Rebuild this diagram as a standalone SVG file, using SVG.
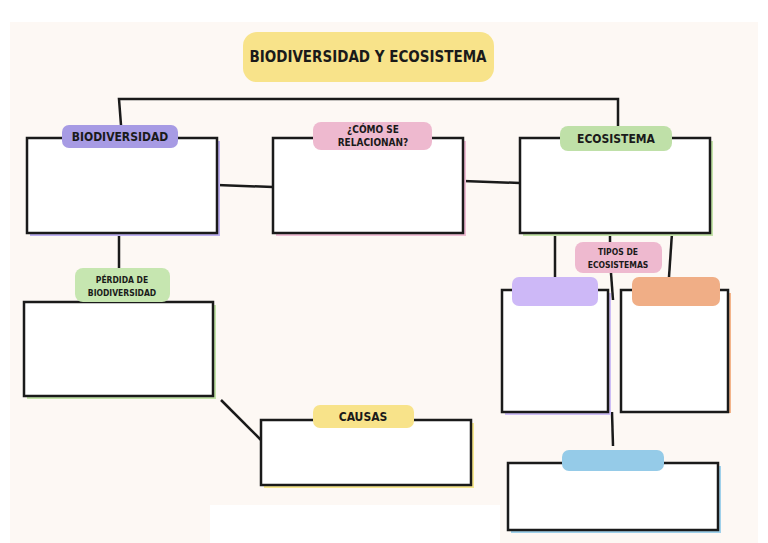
<svg xmlns="http://www.w3.org/2000/svg" width="768" height="543" viewBox="0 0 768 543">
<style>
.box{fill:#fff;stroke:#1a1a1a;stroke-width:2.5}
.ln{fill:none;stroke:#1a1a1a;stroke-width:2.5}
.t{font-family:"DejaVu Sans Condensed","DejaVu Sans",sans-serif;font-stretch:condensed;font-weight:bold;fill:#1a1a1a;text-anchor:middle}
</style>
<rect width="768" height="543" fill="#fff"/>
<rect x="10" y="22" width="748" height="521" fill="#fdf8f4"/>
<rect x="210" y="505" width="290" height="38" fill="#fff"/>
<g id="connectors">
<path class="ln" d="M121 125 L119 99 L618 99 L618 126"/>
<path class="ln" d="M217 185 L273 187"/>
<path class="ln" d="M463 181 L520 183"/>
<path class="ln" d="M119 233 L119 270"/>
<path class="ln" d="M221 400 L261 440"/>
<path class="ln" d="M555 233 L555 277"/>
<path class="ln" d="M672 233 L669 277"/>
<path class="ln" d="M610 233 L610 242"/>
<path class="ln" d="M611 273 L613 300"/>
<path class="ln" d="M612 412 L613 446"/>
</g>
<g id="title">
<rect x="243" y="32" width="251" height="50" rx="14" fill="#f8e38a"/>
<text class="t" x="368" y="62" font-size="15">BIODIVERSIDAD Y ECOSISTEMA</text>
</g>
<g id="biodiversidad">
<rect x="30" y="141" width="190" height="95" fill="#bcaef0"/>
<rect class="box" x="27" y="138" width="190" height="95"/>
<rect x="62" y="125" width="116" height="23" rx="7" fill="#a79be4"/>
<text class="t" x="120" y="141" font-size="12">BIODIVERSIDAD</text>
</g>
<g id="relacionan">
<rect x="276" y="141" width="190" height="95" fill="#efbcd3"/>
<rect class="box" x="273" y="138" width="190" height="95"/>
<rect x="313" y="122" width="119" height="28" rx="8" fill="#eeb9cf"/>
<text class="t" x="373" y="133" font-size="10">¿CÓMO SE</text>
<text class="t" x="373" y="146" font-size="10">RELACIONAN?</text>
</g>
<g id="ecosistema">
<rect x="523" y="141" width="190" height="95" fill="#c3e3a8"/>
<rect class="box" x="520" y="138" width="190" height="95"/>
<rect x="560" y="126" width="112" height="25" rx="8" fill="#bfe0a8"/>
<text class="t" x="616" y="143" font-size="12">ECOSISTEMA</text>
</g>
<g id="perdida">
<rect x="27" y="305" width="189" height="94" fill="#c3e3a8"/>
<rect class="box" x="24" y="302" width="189" height="94"/>
<rect x="75" y="268" width="95" height="34" rx="8" fill="#c6e6b0"/>
<text class="t" x="122" y="283" font-size="8.5">PÉRDIDA DE</text>
<text class="t" x="122" y="296" font-size="8.5">BIODIVERSIDAD</text>
</g>
<g id="causas">
<rect x="264" y="423" width="210" height="65" fill="#f7e78f"/>
<rect class="box" x="261" y="420" width="210" height="65"/>
<rect x="313" y="405" width="101" height="23" rx="7" fill="#f8e38a"/>
<text class="t" x="363" y="421" font-size="12">CAUSAS</text>
</g>
<g id="tipos">
<rect x="575" y="242" width="87" height="31" rx="8" fill="#eeb9cf"/>
<text class="t" x="618" y="255" font-size="8.5">TIPOS DE</text>
<text class="t" x="618" y="268" font-size="8.5">ECOSISTEMAS</text>
</g>
<g id="tipo1">
<rect x="505" y="293" width="106" height="122" fill="#cdbdf5"/>
<rect class="box" x="502" y="290" width="106" height="122"/>
<rect x="512" y="277" width="86" height="29" rx="7" fill="#cdb8f7"/>
</g>
<g id="tipo2">
<rect x="624" y="293" width="107" height="120" fill="#f3b48a"/>
<rect class="box" x="621" y="290" width="107" height="122"/>
<rect x="632" y="277" width="88" height="29" rx="7" fill="#f0ae86"/>
</g>
<g id="tipo3">
<rect x="511" y="466" width="210" height="67" fill="#9fd0ea"/>
<rect class="box" x="508" y="463" width="210" height="67"/>
<rect x="562" y="450" width="102" height="21" rx="7" fill="#95cbe8"/>
</g>
</svg>
